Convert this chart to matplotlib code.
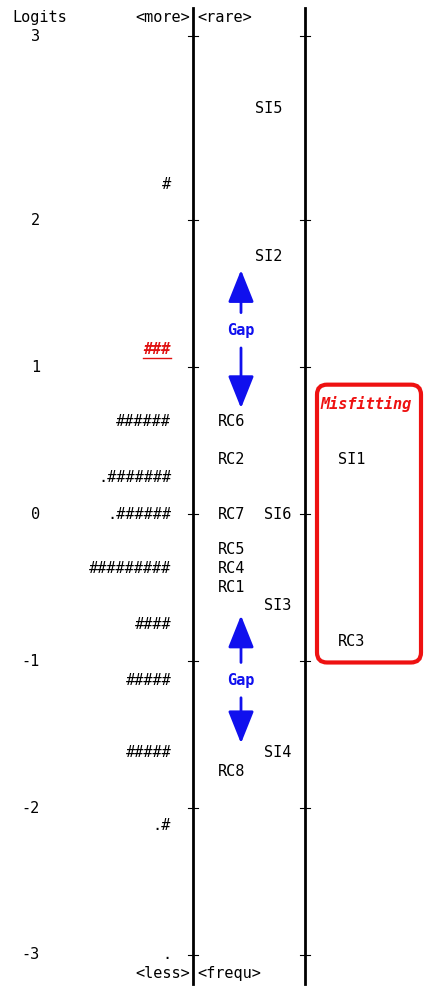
import matplotlib
matplotlib.use("Agg")
import matplotlib.pyplot as plt
from matplotlib.patches import FancyBboxPatch

person_marks = ["#", "###", "######", ".#######", ".######", "#########", "####", "#####", "#####", ".#", "."]
person_logits = [2.24, 1.12, 0.63, 0.25, 0.0, -0.37, -0.75, -1.13, -1.62, -2.12, -3.0]
item_labels = ["SI5", "SI2", "RC6", "RC2", "RC7", "SI6", "RC5", "RC4", "RC1", "SI3", "SI4", "RC8"]
item_logits = [2.76, 1.75, 0.63, 0.37, 0.0, 0.0, -0.24, -0.37, -0.50, -0.62, -1.62, -1.75]
item_cols = [255, 255, 218, 218, 218, 264, 218, 218, 218, 264, 264, 218]
misfit_labels = ["SI1", "RC3"]
misfit_logits = [0.37, -0.87]
tick_pos = [3.25, 2, 1, 0, -1, -2, -3]
tick_labels = ["3", "2", "1", "0", "-1", "-2", "-3"]

fig = plt.figure(figsize=(4.24, 9.96), dpi=100)
ax = fig.add_axes([0, 0, 1, 1])
ax.set_xlim(0, 424)
ax.set_ylim(-3.279, 3.497)
ax.axis("off")
mono = "DejaVu Sans Mono"
fs = 11

ax.plot([193, 193], [3.44, -3.2], color="black", lw=2)
ax.plot([305, 305], [3.44, -3.2], color="black", lw=2)
for t, l in zip(tick_pos, tick_labels):
    for x in (193, 305):
        ax.plot([x - 5, x + 5], [t, t], color="black", lw=0.8)
    ax.text(40, t, l, ha="right", va="center", family=mono, fontsize=fs)

ax.text(12, 3.38, "Logits", ha="left", va="center", family=mono, fontsize=fs)
ax.text(190, 3.38, "<more>", ha="right", va="center", family=mono, fontsize=fs)
ax.text(197, 3.38, "<rare>", ha="left", va="center", family=mono, fontsize=fs)
ax.text(190, -3.125, "<less>", ha="right", va="center", family=mono, fontsize=fs)
ax.text(197, -3.125, "<frequ>", ha="left", va="center", family=mono, fontsize=fs)

for m, y in zip(person_marks, person_logits):
    if m == "###":
        ax.text(171, y, m, ha="right", va="center", family=mono, fontsize=fs,
                color="#e01010", fontweight="bold", style="italic")
        ax.plot([143, 171], [y - 0.06, y - 0.06], color="#e01010", lw=1)
    else:
        ax.text(171, y, m, ha="right", va="center", family=mono, fontsize=fs)

for l, y, x in zip(item_labels, item_logits, item_cols):
    ax.text(x, y, l, ha="left", va="center", family=mono, fontsize=fs)
for l, y in zip(misfit_labels, misfit_logits):
    ax.text(338, y, l, ha="left", va="center", family=mono, fontsize=fs)

box = FancyBboxPatch((317, -1.01), 104, 1.89, boxstyle="round,pad=0,rounding_size=10",
                     mutation_aspect=1/147, fill=False, ec="#ee1111", lw=3)
ax.add_patch(box)
ax.text(320, 0.75, "Misfitting", ha="left", va="center", family=mono, fontsize=fs,
        color="#ee1111", fontweight="bold", style="italic")

for top, bot, mid in [(1.66, 0.72, 1.25), (-0.69, -1.56, -1.13)]:
    for end in (top, bot):
        ax.annotate("", xy=(241, end), xytext=(241, mid + (0.12 if end > mid else -0.12)),
                    arrowprops=dict(arrowstyle="-|>,head_length=2.0,head_width=0.8",
                                    color="#1010ee", lw=2, shrinkA=0, shrinkB=0))
    ax.text(241, mid, "Gap", ha="center", va="center", family=mono, fontsize=fs,
            color="#1010ee", fontweight="bold")

fig.savefig("out.png", dpi=100)
